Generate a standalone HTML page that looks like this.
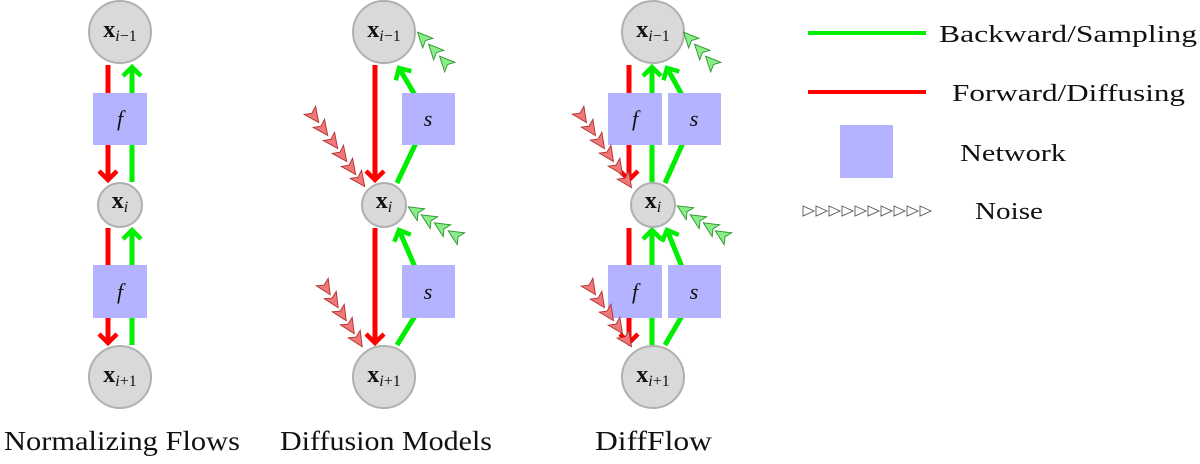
<!DOCTYPE html>
<html><head><meta charset="utf-8"><style>
html,body{margin:0;padding:0;background:#fff;}
svg{display:block;}
text{font-family:"Liberation Serif",serif;fill:#111;}
</style></head><body>
<svg width="1200" height="464" viewBox="0 0 1200 464">
<defs>
<marker id="ag" markerUnits="userSpaceOnUse" markerWidth="30" markerHeight="30" refX="0" refY="0" viewBox="-15 -15 30 30" orient="auto">
<path d="M-9,-9 L0,0 L-9,9" fill="none" stroke="#00ee00" stroke-width="4.5"/></marker>
<marker id="ar" markerUnits="userSpaceOnUse" markerWidth="30" markerHeight="30" refX="0" refY="0" viewBox="-15 -15 30 30" orient="auto">
<path d="M-9,-9 L0,0 L-9,9" fill="none" stroke="#ff0000" stroke-width="4.5"/></marker>
<path id="tr" d="M8,0 L-7,-7 L-3.5,0 L-7,7 Z" fill="#f07878" stroke="#b03030" stroke-width="0.9"/>
<path id="tg" d="M8,0 L-7,-7 L-3.5,0 L-7,7 Z" fill="#88ee88" stroke="#309030" stroke-width="0.9"/>
</defs>
<g stroke-width="5" fill="none">
<line x1="108" y1="65" x2="108" y2="180" stroke="#f00" marker-end="url(#ar)"/>
<line x1="132" y1="182" x2="132" y2="67" stroke="#0e0" marker-end="url(#ag)"/>
<line x1="108" y1="228" x2="108" y2="343" stroke="#f00" marker-end="url(#ar)"/>
<line x1="132" y1="345" x2="132" y2="230" stroke="#0e0" marker-end="url(#ag)"/>
<line x1="375" y1="65" x2="375" y2="180" stroke="#f00" marker-end="url(#ar)"/>
<line x1="375" y1="228" x2="375" y2="343" stroke="#f00" marker-end="url(#ar)"/>
<path d="M397,183 L415,145 L415,95 L399,68" stroke="#0e0" marker-end="url(#ag)"/>
<path d="M397,345 L415,316 L415,267 L399,230" stroke="#0e0" marker-end="url(#ag)"/>
<line x1="629" y1="65" x2="629" y2="180" stroke="#f00" marker-end="url(#ar)"/>
<line x1="629" y1="228" x2="629" y2="343" stroke="#f00" marker-end="url(#ar)"/>
<line x1="652" y1="182" x2="652" y2="67" stroke="#0e0" marker-end="url(#ag)"/>
<line x1="652" y1="345" x2="652" y2="230" stroke="#0e0" marker-end="url(#ag)"/>
<path d="M665,183 L682,145 L682,95 L667,68" stroke="#0e0" marker-end="url(#ag)"/>
<path d="M665,345 L682,316 L682,267 L667,230" stroke="#0e0" marker-end="url(#ag)"/>
</g>
<g fill="#b3b3ff">
<rect x="93" y="93" width="54" height="52"/><rect x="93" y="265" width="54" height="53"/>
<rect x="402" y="93" width="53" height="52"/><rect x="402" y="265" width="53" height="53"/>
<rect x="608" y="93" width="54" height="52"/><rect x="608" y="265" width="54" height="53"/>
<rect x="668" y="93" width="53" height="52"/><rect x="668" y="265" width="53" height="53"/>
<rect x="840" y="125" width="53" height="53"/>
</g>
<g font-style="italic" font-size="22" text-anchor="middle">
<text x="120" y="126">f</text><text x="120" y="299">f</text>
<text x="428" y="126">s</text><text x="428" y="299">s</text>
<text x="635" y="126">f</text><text x="635" y="299">f</text>
<text x="694" y="126">s</text><text x="694" y="299">s</text>
</g>
<g fill="#d9d9d9" stroke="#b0b0b0" stroke-width="2">
<circle cx="120" cy="32" r="31"/><circle cx="120" cy="205" r="22"/><circle cx="120" cy="377" r="31"/>
<circle cx="384" cy="32" r="31"/><circle cx="384" cy="205" r="22"/><circle cx="384" cy="377" r="31"/>
<circle cx="653" cy="32" r="31"/><circle cx="653" cy="205" r="22"/><circle cx="653" cy="377" r="31"/>
</g>
<g font-size="24" text-anchor="middle">
<text x="120" y="37"><tspan font-weight="bold">x</tspan><tspan font-style="italic" font-size="16" dy="4">i</tspan><tspan font-size="16">−1</tspan></text>
<text x="120" y="208"><tspan font-weight="bold">x</tspan><tspan font-style="italic" font-size="16" dy="4">i</tspan></text>
<text x="120" y="382"><tspan font-weight="bold">x</tspan><tspan font-style="italic" font-size="16" dy="4">i</tspan><tspan font-size="16">+1</tspan></text>
<text x="384" y="37"><tspan font-weight="bold">x</tspan><tspan font-style="italic" font-size="16" dy="4">i</tspan><tspan font-size="16">−1</tspan></text>
<text x="384" y="208"><tspan font-weight="bold">x</tspan><tspan font-style="italic" font-size="16" dy="4">i</tspan></text>
<text x="384" y="382"><tspan font-weight="bold">x</tspan><tspan font-style="italic" font-size="16" dy="4">i</tspan><tspan font-size="16">+1</tspan></text>
<text x="653" y="37"><tspan font-weight="bold">x</tspan><tspan font-style="italic" font-size="16" dy="4">i</tspan><tspan font-size="16">−1</tspan></text>
<text x="653" y="208"><tspan font-weight="bold">x</tspan><tspan font-style="italic" font-size="16" dy="4">i</tspan></text>
<text x="653" y="382"><tspan font-weight="bold">x</tspan><tspan font-style="italic" font-size="16" dy="4">i</tspan><tspan font-size="16">+1</tspan></text>
</g>
<use href="#tr" transform="translate(314,116) rotate(54)"/>
<use href="#tr" transform="translate(323,129) rotate(54)"/>
<use href="#tr" transform="translate(333,142) rotate(54)"/>
<use href="#tr" transform="translate(342,155) rotate(54)"/>
<use href="#tr" transform="translate(351,168) rotate(54)"/>
<use href="#tr" transform="translate(360,180) rotate(54)"/>
<use href="#tr" transform="translate(326,288) rotate(58)"/>
<use href="#tr" transform="translate(334,301) rotate(58)"/>
<use href="#tr" transform="translate(342,314) rotate(58)"/>
<use href="#tr" transform="translate(350,327) rotate(58)"/>
<use href="#tr" transform="translate(358,340) rotate(58)"/>
<use href="#tg" transform="translate(423,38) rotate(227)"/>
<use href="#tg" transform="translate(434,50) rotate(227)"/>
<use href="#tg" transform="translate(445,62) rotate(227)"/>
<use href="#tg" transform="translate(415,211) rotate(212)"/>
<use href="#tg" transform="translate(428,219) rotate(212)"/>
<use href="#tg" transform="translate(441,227) rotate(212)"/>
<use href="#tg" transform="translate(455,235) rotate(212)"/>
<use href="#tr" transform="translate(582,116) rotate(56)"/>
<use href="#tr" transform="translate(591,129) rotate(56)"/>
<use href="#tr" transform="translate(600,142) rotate(56)"/>
<use href="#tr" transform="translate(609,155) rotate(56)"/>
<use href="#tr" transform="translate(618,168) rotate(56)"/>
<use href="#tr" transform="translate(627,181) rotate(56)"/>
<use href="#tr" transform="translate(591,288) rotate(56)"/>
<use href="#tr" transform="translate(600,301) rotate(56)"/>
<use href="#tr" transform="translate(609,314) rotate(56)"/>
<use href="#tr" transform="translate(618,327) rotate(56)"/>
<use href="#tr" transform="translate(627,340) rotate(56)"/>
<use href="#tg" transform="translate(689,38) rotate(227)"/>
<use href="#tg" transform="translate(700,50) rotate(227)"/>
<use href="#tg" transform="translate(711,62) rotate(227)"/>
<use href="#tg" transform="translate(684,210) rotate(212)"/>
<use href="#tg" transform="translate(697,219) rotate(212)"/>
<use href="#tg" transform="translate(710,227) rotate(212)"/>
<use href="#tg" transform="translate(722,235) rotate(212)"/>
<line x1="808" y1="33" x2="926" y2="33" stroke="#0e0" stroke-width="4"/>
<line x1="808" y1="92" x2="926" y2="92" stroke="#f00" stroke-width="4"/>
<g fill="none" stroke="#555" stroke-width="0.9">
<path d="M803,206 L814,211 L803,216 Z"/><path d="M816,206 L827,211 L816,216 Z"/>
<path d="M829,206 L840,211 L829,216 Z"/><path d="M842,206 L853,211 L842,216 Z"/>
<path d="M855,206 L866,211 L855,216 Z"/><path d="M868,206 L879,211 L868,216 Z"/>
<path d="M881,206 L892,211 L881,216 Z"/><path d="M894,206 L905,211 L894,216 Z"/>
<path d="M907,206 L918,211 L907,216 Z"/><path d="M920,206 L931,211 L920,216 Z"/>
</g>
<g font-size="24">
<text x="939" y="42" textLength="258" lengthAdjust="spacingAndGlyphs">Backward/Sampling</text>
<text x="952" y="101" textLength="233" lengthAdjust="spacingAndGlyphs">Forward/Diffusing</text>
<text x="960" y="161" textLength="106" lengthAdjust="spacingAndGlyphs">Network</text>
<text x="975" y="219" textLength="68" lengthAdjust="spacingAndGlyphs">Noise</text>
</g>
<g font-size="27">
<text x="4" y="450" textLength="236" lengthAdjust="spacingAndGlyphs">Normalizing Flows</text>
<text x="280" y="450" textLength="212" lengthAdjust="spacingAndGlyphs">Diffusion Models</text>
<text x="595" y="450" textLength="117" lengthAdjust="spacingAndGlyphs">DiffFlow</text>
</g>
</svg>
</body></html>
